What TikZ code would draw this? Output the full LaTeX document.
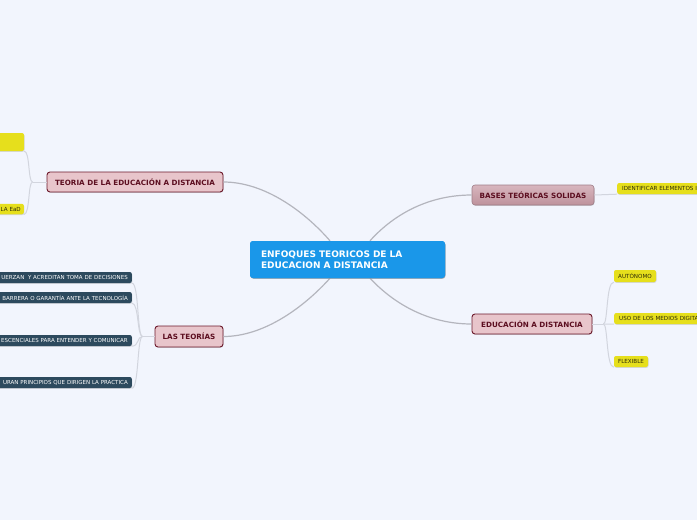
\documentclass[tikz,border=0pt]{standalone}
\usepackage{fontspec}
\setmainfont{DejaVu Sans}
\usetikzlibrary{shadows}
\definecolor{bgc}{HTML}{F2F5FD}
\definecolor{centralblue}{HTML}{1A97E9}
\definecolor{pinkfill}{HTML}{E8C5CB}
\definecolor{pinkdraw}{HTML}{6D1A2C}
\definecolor{pinktext}{HTML}{5C0E20}
\definecolor{basetop}{HTML}{D8B6BE}
\definecolor{basebot}{HTML}{BE929C}
\definecolor{basedraw}{HTML}{9E7C86}
\definecolor{yellowfill}{HTML}{E6DF1C}
\definecolor{yellowtext}{HTML}{2E2C08}
\definecolor{darkfill}{HTML}{2D4A5E}
\definecolor{mainline}{HTML}{B4B5BD}
\definecolor{subline}{HTML}{D2D5DE}
\begin{document}
\begin{tikzpicture}[x=1pt,y=-1pt,
  centralbox/.style={fill=centralblue, rounded corners=3pt, text=white,
    font=\fontsize{9}{10.5}\selectfont\bfseries, minimum width=195pt, minimum height=37pt,
    text width=173pt, align=left, inner xsep=11pt, inner ysep=0pt,
    drop shadow={shadow xshift=0.5pt, shadow yshift=-0.8pt, opacity=0.15, fill=black}},
  pinkbox/.style={fill=pinkfill, draw=pinkdraw, line width=0.9pt, rounded corners=3pt,
    text=pinktext, font=\fontsize{7.2}{8.6}\selectfont\bfseries, inner sep=0pt,
    drop shadow={shadow xshift=0.5pt, shadow yshift=-0.8pt, opacity=0.15, fill=black}},
  basebox/.style={top color=basetop, bottom color=basebot, draw=basedraw, line width=0.6pt,
    rounded corners=3pt, text=pinktext, font=\fontsize{7.2}{8.6}\selectfont\bfseries, inner sep=0pt,
    drop shadow={shadow xshift=0.5pt, shadow yshift=-0.8pt, opacity=0.15, fill=black}},
  yellowbox/.style={fill=yellowfill, rounded corners=2pt, text=yellowtext,
    font=\fontsize{5.6}{6}\selectfont, inner ysep=0pt,
    drop shadow={shadow xshift=0.5pt, shadow yshift=-0.8pt, opacity=0.12, fill=black}},
  darkbox/.style={fill=darkfill, rounded corners=2pt, text=white,
    font=\fontsize{5.5}{6}\selectfont, inner ysep=0pt, inner xsep=4pt,
    minimum height=11pt, text width=220pt, align=right, anchor=east,
    drop shadow={shadow xshift=0.5pt, shadow yshift=-0.8pt, opacity=0.12, fill=black}},
  mainconn/.style={draw=mainline, line width=1.2pt},
  subconn/.style={draw=subline, line width=1pt}
]
\useasboundingbox (0,0) rectangle (697,520);
\clip (0,0) rectangle (697,520);
\fill[bgc] (0,0) rectangle (697,520);

% nodes
\node[centralbox] (c) at (347.5,259.5) {ENFOQUES TEORICOS DE LA\\EDUCACION A DISTANCIA};
\node[pinkbox, minimum width=176pt, minimum height=20pt] (teoria) at (135,182) {TEORIA DE LA EDUCACIÓN A DISTANCIA};
\node[pinkbox, minimum width=68pt, minimum height=21pt] (lasteorias) at (189,336.5) {LAS TEORÍAS};
\node[basebox, minimum width=122pt, minimum height=20pt] (bases) at (533,195) {BASES TEÓRICAS SOLIDAS};
\node[pinkbox, minimum width=120pt, minimum height=20pt] (edu) at (532,324) {EDUCACIÓN A DISTANCIA};

\node[yellowbox, minimum width=90pt, minimum height=18pt] (y1) at (-21,142) {};
\node[yellowbox, anchor=east, minimum height=10.5pt, text width=80pt, align=right, inner xsep=3pt] (y2) at (24,209) {LA EaD};

\node[darkbox] (d1) at (132,277.5) {UERZAN\ \ Y ACREDITAN TOMA DE DECISIONES};
\node[darkbox] (d2) at (132,297.5) {BARRERA O GARANTÍA ANTE LA TECNOLOGÍA};
\node[darkbox] (d3) at (132,340.5) {ESCENCIALES PARA ENTENDER Y COMUNICAR};
\node[darkbox] (d4) at (132,382.5) {URAN PRINCIPIOS QUE DIRIGEN LA PRACTICA};

\node[yellowbox, anchor=west, minimum height=11pt, text width=150pt, align=left, inner xsep=5pt] (ident) at (617,188.5) {IDENTIFICAR ELEMENTOS I};
\node[yellowbox, minimum width=42pt, minimum height=12pt, inner xsep=0pt] (aut) at (635,276) {AUTÓNOMO};
\node[yellowbox, anchor=west, minimum height=11pt, text width=150pt, align=left, inner xsep=5pt] (uso) at (614,318.5) {USO DE LOS MEDIOS DIGITA};
\node[yellowbox, minimum width=34pt, minimum height=11pt, inner xsep=0pt] (flex) at (631,361.5) {FLEXIBLE};

% junction coordinates
\coordinate (cnw) at ([xshift=-17.5pt]c.north);
\coordinate (cne) at ([xshift=22.5pt]c.north);
\coordinate (csw) at ([xshift=-17.5pt]c.south);
\coordinate (cse) at ([xshift=22.5pt]c.south);
\coordinate (jt) at ([xshift=-14pt]teoria.west);
\coordinate (jl) at ([xshift=-12pt]lasteorias.west);
\coordinate (je) at ([xshift=11pt]edu.east);

% main connectors
\path[mainconn] (cnw) .. controls (305,212) and (265,182) .. (teoria.east);
\path[mainconn] (cne) .. controls (395,213) and (430,195) .. (bases.west);
\path[mainconn] (csw) .. controls (305,306) and (265,336.5) .. (lasteorias.east);
\path[mainconn] (cse) .. controls (395,305) and (430,324) .. (edu.west);

% sub connectors
\path[subconn] (teoria.west) -- (jt);
\path[subconn] (jt) .. controls (28,182) and (30,151) .. (y1.south east);
\path[subconn] (jt) .. controls (28,182) and (30,214.25) .. (y2.south east);

\path[subconn] (lasteorias.west) -- (jl);
\path[subconn] (jl) .. controls (137,336.5) and (139,283) .. (d1.south east);
\path[subconn] (jl) .. controls (137,336.5) and (139,303) .. (d2.south east);
\path[subconn] (jl) .. controls (137,336.5) and (139,346) .. (d3.south east);
\path[subconn] (jl) .. controls (137,336.5) and (139,388) .. (d4.south east);

\path[subconn] (bases.east) -- (ident.south west);

\path[subconn] (edu.east) -- (je);
\path[subconn] (je) .. controls (608,324) and (606,282) .. (aut.south west);
\path[subconn] (je) -- (uso.south west);
\path[subconn] (je) .. controls (608,324) and (606,367) .. (flex.south west);

% central node redrawn above the connector ends
\node[centralbox] at (c) {ENFOQUES TEORICOS DE LA\\EDUCACION A DISTANCIA};
\end{tikzpicture}
\end{document}
